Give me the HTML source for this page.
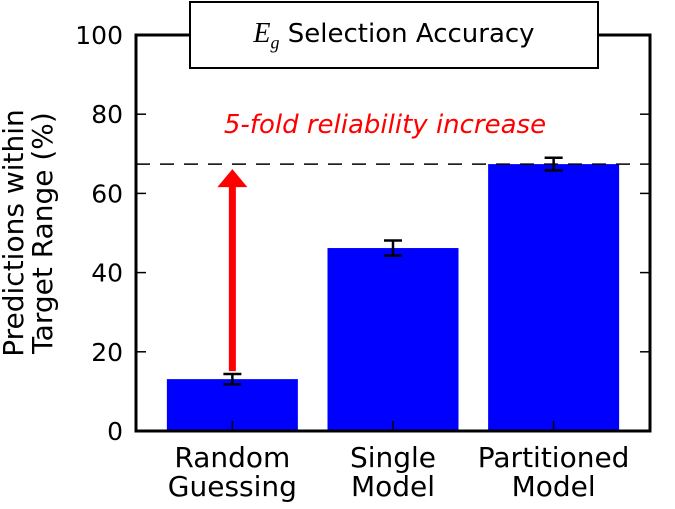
<!DOCTYPE html>
<html><head><meta charset="utf-8"><style>
body{margin:0;background:#fff}
svg text{font-family:"DejaVu Sans","Liberation Sans",sans-serif}
</style></head><body>
<svg id="chart" width="675" height="504" xmlns="http://www.w3.org/2000/svg"></svg>
<script>
const categories=[["Random","Guessing"],["Single","Model"],["Partitioned","Model"]];
const values=[13.1,46.2,67.4];
const errors=[1.3,1.9,1.6];
const yTicks=[0,20,40,60,80,100];
const refLine=67.4;
const NS="http://www.w3.org/2000/svg";
const svg=document.getElementById('chart');
const L=136,R=650,T=35,B=431;
const y=v=>B-(v/100)*(B-T);
const x=i=>L+(i+0.6)/3.2*(R-L);
const bw=131;
function mk(tag,attrs,parent){const e=document.createElementNS(NS,tag);for(const k in attrs)e.setAttribute(k,attrs[k]);(parent||svg).appendChild(e);return e;}
values.forEach((v,i)=>{
 const r=mk('rect',{x:x(i)-bw/2,y:y(v),width:bw,height:B-y(v),fill:'#0000ff'});
 
 
 const g=mk('g',{stroke:'#000','stroke-width':2.5});
 
 
 mk('line',{x1:x(i),x2:x(i),y1:y(v+errors[i]),y2:y(v-errors[i])},g);
 mk('line',{x1:x(i)-9,x2:x(i)+9,y1:y(v+errors[i]),y2:y(v+errors[i])},g);
 mk('line',{x1:x(i)-9,x2:x(i)+9,y1:y(v-errors[i]),y2:y(v-errors[i])},g);
 const tk=mk('line',{x1:x(i),x2:x(i),y1:B,y2:B-10,stroke:'#000','stroke-width':1.5});
 
 
 categories[i].forEach((s,j)=>{
  const t=mk('text',{x:x(i),y:467+j*29,'text-anchor':'middle','font-size':28});
  t.textContent=s;
  
  
 });
});
const dl=mk('line',{x1:L,x2:R,y1:y(refLine),y2:y(refLine),stroke:'#000','stroke-width':1.5,'stroke-dasharray':'14,10'});


yTicks.forEach(v=>{
 mk('line',{x1:L,x2:L+10,y1:y(v),y2:y(v),stroke:'#000','stroke-width':1.5});
 mk('line',{x1:R,x2:R-10,y1:y(v),y2:y(v),stroke:'#000','stroke-width':1.5});
 const t=mk('text',{x:123,y:y(v)+9,'text-anchor':'end','font-size':25});
 t.textContent=v;
 
 
});
const ag=mk('g',{fill:'#ff0000'});


const ax=x(0);
mk('rect',{x:ax-3.5,y:y(refLine)+20,width:7,height:y(values[0])-8-(y(refLine)+20)},ag);
mk('polygon',{points:`${ax-15},${y(refLine)+23} ${ax+15},${y(refLine)+23} ${ax},${y(refLine)+5}`},ag);
const fr=mk('rect',{x:L,y:T,width:R-L,height:B-T,fill:'none',stroke:'#000','stroke-width':3});


</script>
<div style="position:absolute;left:185px;top:110px;width:400px;text-align:center;color:#f00;font:italic 26px 'DejaVu Sans','Liberation Sans',sans-serif">5-fold reliability increase</div>
<div style="position:absolute;left:189px;top:1px;width:406px;height:64px;border:2px solid #000;background:#fff;text-align:center;font:26px 'DejaVu Sans','Liberation Sans',sans-serif;line-height:62px"><span><i style="font-family:'Liberation Serif',serif;font-size:28px">E<sub style="font-size:18px;line-height:0">g</sub></i> Selection Accuracy</span></div>
<div style="position:absolute;left:-122px;top:204px;width:300px;text-align:center;transform:rotate(-90deg);font:28px/29px 'DejaVu Sans','Liberation Sans',sans-serif">Predictions within<br>Target Range (%)</div>
</body></html>
